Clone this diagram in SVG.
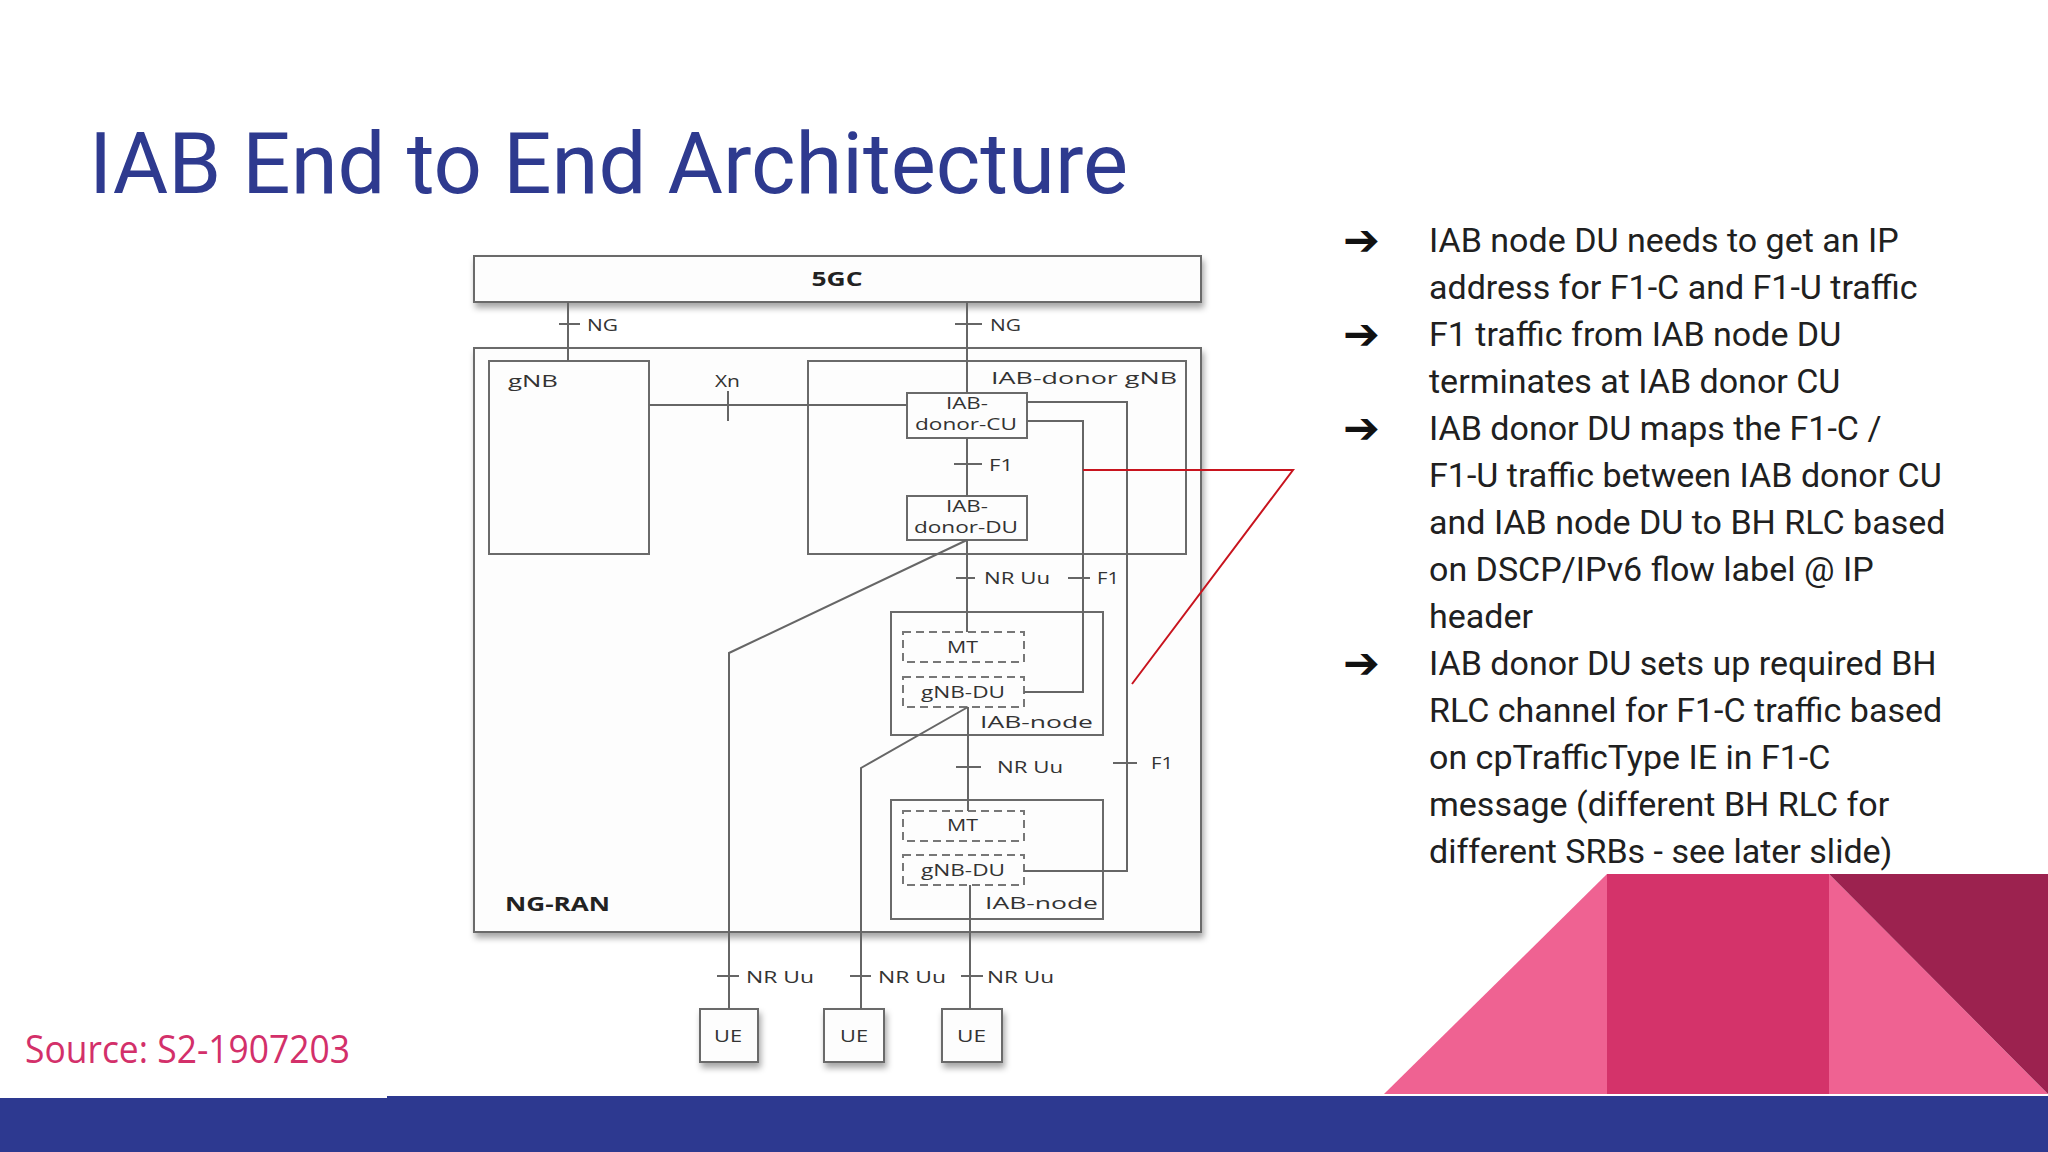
<svg xmlns="http://www.w3.org/2000/svg" width="2048" height="1152" viewBox="0 0 2048 1152">
<defs>
<filter id="sh" x="-10%" y="-10%" width="130%" height="140%">
<feDropShadow dx="2" dy="5" stdDeviation="3" flood-color="#000" flood-opacity="0.35"/>
</filter>
<style>
.bx{fill:#fdfdfd;stroke:#6a6a6a;stroke-width:2}
.ib{fill:none;stroke:#6a6a6a;stroke-width:2}
.ds{fill:none;stroke:#777;stroke-width:2;stroke-dasharray:8 5}
.ln{fill:none;stroke:#666;stroke-width:2}
.tk{fill:none;stroke:#666;stroke-width:2}
.dt{font-family:"Open Sans","Liberation Sans",sans-serif;font-size:17px;fill:#333}
.db{font-family:"Open Sans","Liberation Sans",sans-serif;font-size:19px;font-weight:bold;fill:#222}
.bt{font-family:Roboto,"Liberation Sans",sans-serif;font-size:34px;fill:#202020}
.ar{font-family:"DejaVu Sans",sans-serif;font-size:44px;fill:#111}
</style>
</defs>
<rect width="2048" height="1152" fill="#ffffff"/>

<!-- title -->
<text x="89" y="193" font-family="Roboto,'Liberation Sans',sans-serif" font-size="85" fill="#2e3a8f">IAB End to End Architecture</text>

<!-- diagram nodes -->
<g id="n-5gc">
<rect class="bx" x="474" y="256" width="727" height="46" filter="url(#sh)"/>
<text class="db" x="837" y="286" text-anchor="middle" textLength="51" lengthAdjust="spacingAndGlyphs">5GC</text>
</g>
<g id="n-ngran">
<rect class="bx" x="474" y="348" width="727" height="584" filter="url(#sh)"/>
<text class="db" x="505" y="911" textLength="105" lengthAdjust="spacingAndGlyphs">NG-RAN</text>
</g>
<g id="n-gnb">
<rect class="ib" x="489" y="361" width="160" height="193"/>
<text class="dt" x="508" y="387" font-size="20" textLength="50" lengthAdjust="spacingAndGlyphs">gNB</text>
</g>
<g id="n-donor-gnb">
<rect class="ib" x="808" y="361" width="378" height="193"/>
<text class="dt" x="991" y="384" font-size="19" textLength="186" lengthAdjust="spacingAndGlyphs">IAB-donor gNB</text>
</g>
<g id="n-donor-cu">
<rect class="bx" x="907" y="393" width="120" height="45"/>
<text class="dt" x="946" y="409" textLength="42" lengthAdjust="spacingAndGlyphs">IAB-</text>
<text class="dt" x="915" y="430" textLength="102" lengthAdjust="spacingAndGlyphs">donor-CU</text>
</g>
<g id="n-donor-du">
<rect class="bx" x="907" y="496" width="120" height="44"/>
<text class="dt" x="946" y="512" textLength="42" lengthAdjust="spacingAndGlyphs">IAB-</text>
<text class="dt" x="914" y="533" textLength="104" lengthAdjust="spacingAndGlyphs">donor-DU</text>
</g>
<g id="n-iab-node1">
<rect class="ib" x="891" y="612" width="212" height="123"/>
<rect class="ds" x="903" y="632" width="121" height="30"/>
<text class="dt" x="947" y="653" textLength="31" lengthAdjust="spacingAndGlyphs">MT</text>
<rect class="ds" x="903" y="677" width="121" height="30"/>
<text class="dt" x="921" y="698" textLength="84" lengthAdjust="spacingAndGlyphs">gNB-DU</text>
<text class="dt" x="980" y="728" font-size="20" textLength="113" lengthAdjust="spacingAndGlyphs">IAB-node</text>
</g>
<g id="n-iab-node2">
<rect class="ib" x="891" y="800" width="212" height="119"/>
<rect class="ds" x="903" y="811" width="121" height="30"/>
<text class="dt" x="947" y="831" textLength="31" lengthAdjust="spacingAndGlyphs">MT</text>
<rect class="ds" x="903" y="855" width="121" height="30"/>
<text class="dt" x="921" y="876" textLength="84" lengthAdjust="spacingAndGlyphs">gNB-DU</text>
<text class="dt" x="985" y="909" font-size="20" textLength="113" lengthAdjust="spacingAndGlyphs">IAB-node</text>
</g>
<g id="n-ue1">
<rect class="bx" x="700" y="1009" width="58" height="53" filter="url(#sh)"/>
<text class="dt" x="714" y="1042" textLength="28" lengthAdjust="spacingAndGlyphs">UE</text>
</g>
<g id="n-ue2">
<rect class="bx" x="824" y="1009" width="60" height="53" filter="url(#sh)"/>
<text class="dt" x="840" y="1042" textLength="28" lengthAdjust="spacingAndGlyphs">UE</text>
</g>
<g id="n-ue3">
<rect class="bx" x="942" y="1009" width="60" height="53" filter="url(#sh)"/>
<text class="dt" x="957" y="1042" textLength="29" lengthAdjust="spacingAndGlyphs">UE</text>
</g>

<!-- connectors -->
<g id="connectors">
<path class="ln" d="M568 302V361"/>
<path class="tk" d="M559 324H580"/>
<text class="dt" x="587" y="331" textLength="31" lengthAdjust="spacingAndGlyphs">NG</text>
<path class="ln" d="M967 302V393"/>
<path class="tk" d="M955 324H982"/>
<text class="dt" x="990" y="331" textLength="31" lengthAdjust="spacingAndGlyphs">NG</text>
<path class="ln" d="M649 405H907"/>
<path class="tk" d="M728 391V421"/>
<text class="dt" x="715" y="387" textLength="25" lengthAdjust="spacingAndGlyphs">Xn</text>
<path class="ln" d="M967 438V496"/>
<path class="tk" d="M954 464H982"/>
<text class="dt" x="989" y="471" textLength="24" lengthAdjust="spacingAndGlyphs">F1</text>
<path class="ln" d="M1027 402H1127V871H1024"/>
<path class="tk" d="M1113 763H1137"/>
<text class="dt" x="1151" y="769" textLength="22" lengthAdjust="spacingAndGlyphs">F1</text>
<path class="ln" d="M1027 421H1083V692H1024"/>
<path class="tk" d="M1068 578H1090"/>
<text class="dt" x="1097" y="584" textLength="22" lengthAdjust="spacingAndGlyphs">F1</text>
<path class="ln" d="M967 540V632"/>
<path class="tk" d="M956 578H975"/>
<text class="dt" x="984" y="584" textLength="66" lengthAdjust="spacingAndGlyphs">NR Uu</text>
<path class="ln" d="M967 540L729 653V1009"/>
<path class="tk" d="M717 976H739"/>
<text class="dt" x="746" y="983" textLength="68" lengthAdjust="spacingAndGlyphs">NR Uu</text>
<path class="ln" d="M968 707V811"/>
<path class="tk" d="M956 767H981"/>
<text class="dt" x="997" y="773" textLength="66" lengthAdjust="spacingAndGlyphs">NR Uu</text>
<path class="ln" d="M968 707L861 768V1009"/>
<path class="tk" d="M850 976H871"/>
<text class="dt" x="878" y="983" textLength="68" lengthAdjust="spacingAndGlyphs">NR Uu</text>
<path class="ln" d="M970 885V1009"/>
<path class="tk" d="M961 976H983"/>
<text class="dt" x="987" y="983" textLength="67" lengthAdjust="spacingAndGlyphs">NR Uu</text>
<path d="M1083 470H1293L1132 684" fill="none" stroke="#c8141e" stroke-width="2"/>
</g>

<!-- bullets -->
<g id="bullets">
<text class="ar" x="1343" y="255" fill="#444">➔</text>
<text class="ar" x="1343" y="349">➔</text>
<text class="ar" x="1343" y="443">➔</text>
<text class="ar" x="1343" y="678">➔</text>
<text class="bt" x="1429" y="252">IAB node DU needs to get an IP</text>
<text class="bt" x="1429" y="299">address for F1-C and F1-U traffic</text>
<text class="bt" x="1429" y="346">F1 traffic from IAB node DU</text>
<text class="bt" x="1429" y="393">terminates at IAB donor CU</text>
<text class="bt" x="1429" y="440">IAB donor DU maps the F1-C /</text>
<text class="bt" x="1429" y="487">F1-U traffic between IAB donor CU</text>
<text class="bt" x="1429" y="534">and IAB node DU to BH RLC based</text>
<text class="bt" x="1429" y="581">on DSCP/IPv6 flow label @ IP</text>
<text class="bt" x="1429" y="628">header</text>
<text class="bt" x="1429" y="675">IAB donor DU sets up required BH</text>
<text class="bt" x="1429" y="722">RLC channel for F1-C traffic based</text>
<text class="bt" x="1429" y="769">on cpTrafficType IE in F1-C</text>
<text class="bt" x="1429" y="816">message (different BH RLC for</text>
<text class="bt" x="1429" y="863">different SRBs - see later slide)</text>
</g>

<!-- decoration -->
<g id="decor">
<polygon points="1384,1094 1607,874 1607,1094" fill="#ef6292"/>
<rect x="1607" y="874" width="222" height="220" fill="#d4336a"/>
<polygon points="1829,874 2048,1094 1829,1094" fill="#ef6292"/>
<polygon points="1829,874 2048,874 2048,1094" fill="#9c224f"/>
<rect x="0" y="1096" width="2048" height="56" fill="#2d3990"/>
<rect x="0" y="1094" width="387" height="4" fill="#ffffff"/>
</g>
<text x="25" y="1063" font-family="'Open Sans','Liberation Sans',sans-serif" font-size="39" fill="#d3306a" textLength="325" lengthAdjust="spacingAndGlyphs">Source: S2-1907203</text>
</svg>
